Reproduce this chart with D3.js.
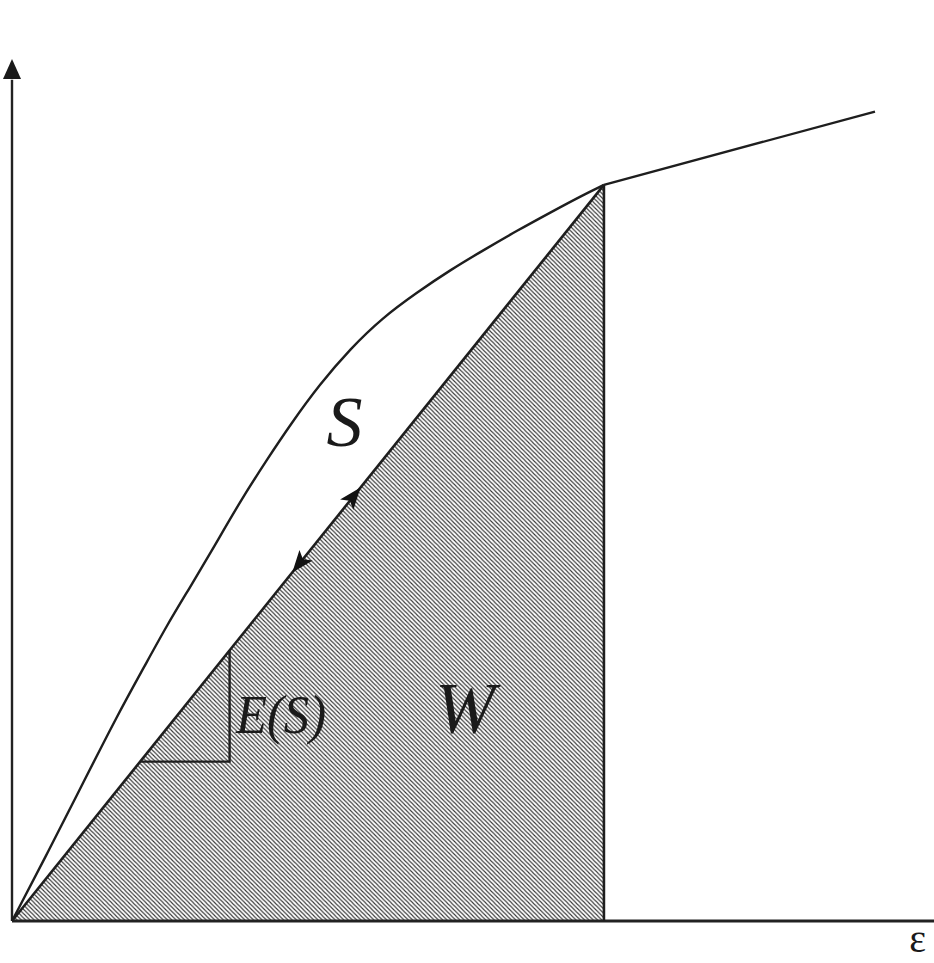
<!DOCTYPE html>
<html lang="en">
<head>
<meta charset="utf-8">
<title>Stress-strain energy diagram</title>
<script src="https://cdn.jsdelivr.net/npm/d3@7"></script>
<style>
  body { margin: 0; background: #fff; }
  svg { display: block; }
  .lbl { font-family: "Liberation Serif", "Times New Roman", Times, "DejaVu Serif", serif; font-style: italic; fill: #1a1a1a; }
  .eps { font-family: "Liberation Serif", "Times New Roman", Times, "DejaVu Serif", serif; fill: #1a1a1a; }
</style>
</head>
<body>
<div id="chart"></div>
<script>
// loading curve (strain, stress), 0..100 units
var strain = [0, 4.1, 7.7, 11.4, 14.4, 16.8, 19.3, 21.8, 24.7, 27.7, 30.2, 33.4, 36.7, 40.2, 43.9, 47.5, 51.1, 54.8, 58.4, 61.9, 64.2];
var stress = [0, 8.4, 16.0, 23.8, 29.6, 34.3, 38.7, 43.2, 48.6, 53.6, 57.6, 62.3, 66.4, 70.0, 72.9, 75.5, 77.8, 80.1, 82.2, 84.2, 85.4];

// hardening branch after the peak
var hardStrain = [64.2, 93.6];
var hardStress = [85.4, 93.9];

// unloading/reloading chord and its arrows
var peak = [64.2, 85.4];
var arrowUpAt = 37.8;
var arrowDownAt = 30.4;

// small slope triangle E(S)
var triStrain = [13.9, 23.6];

var w = 934, h = 963;

var x = d3.scaleLinear().domain([0, 100]).range([12, 934]);
var y = d3.scaleLinear().domain([0, 100]).range([921, 59]);

var svg = d3.select("#chart").append("svg")
  .attr("width", w)
  .attr("height", h);

// hatching pattern, lines going down to the right
var hs = 4.3;
var defs = svg.append("defs");
defs.append("pattern")
  .attr("id", "hatch")
  .attr("patternUnits", "userSpaceOnUse")
  .attr("width", hs)
  .attr("height", hs)
  .append("path")
  .attr("d", "M-1,-1L" + (hs + 1) + "," + (hs + 1) + "M-1," + (hs - 1) + "L1," + (hs + 1) + "M" + (hs - 1) + ",-1L" + (hs + 1) + ",1")
  .attr("stroke", "#333")
  .attr("stroke-width", 1.1);

var slope = peak[1] / peak[0];
var line = d3.line().x(function(d) { return x(d[0]); }).y(function(d) { return y(d[1]); });

// hatched region W under the chord
svg.append("path")
  .attr("d", line([[0, 0], peak, [peak[0], 0]]) + "Z")
  .attr("fill", "url(#hatch)")
  .attr("stroke", "none");

// axes
svg.append("line")
  .attr("x1", x(0)).attr("y1", y(0))
  .attr("x2", x(0)).attr("y2", y(97.6))
  .attr("stroke", "#222").attr("stroke-width", 2.4);
svg.append("path")
  .attr("d", "M" + x(0) + "," + y(100) + "L" + (x(0) - 9) + "," + (y(100) + 20) + "L" + (x(0) + 9) + "," + (y(100) + 20) + "Z")
  .attr("fill", "#1a1a1a");
svg.append("line")
  .attr("x1", x(0)).attr("y1", y(0))
  .attr("x2", x(100)).attr("y2", y(0))
  .attr("stroke", "#222").attr("stroke-width", 2.8);

// vertical at peak strain
svg.append("line")
  .attr("x1", x(peak[0])).attr("y1", y(peak[1]))
  .attr("x2", x(peak[0])).attr("y2", y(0))
  .attr("stroke", "#1e1e1e").attr("stroke-width", 2.6);

// chord
svg.append("path")
  .attr("d", line([[0, 0], peak]))
  .attr("fill", "none")
  .attr("stroke", "#1e1e1e").attr("stroke-width", 2.6);

// loading curve
svg.append("path")
  .datum(d3.zip(strain, stress))
  .attr("d", d3.line()
    .x(function(d) { return x(d[0]); })
    .y(function(d) { return y(d[1]); })
    .curve(d3.curveBasis))
  .attr("fill", "none")
  .attr("stroke", "#1e1e1e").attr("stroke-width", 2.4);

// hardening branch
svg.append("path")
  .attr("d", line(d3.zip(hardStrain, hardStress)))
  .attr("fill", "none")
  .attr("stroke", "#1e1e1e").attr("stroke-width", 2.4);

// small triangle
svg.append("path")
  .attr("d", line([[triStrain[0], triStrain[0] * slope], [triStrain[1], triStrain[0] * slope], [triStrain[1], triStrain[1] * slope]]))
  .attr("fill", "none")
  .attr("stroke", "#1e1e1e").attr("stroke-width", 2.4);

// arrowheads on the chord
var ang = Math.atan2(y(peak[1]) - y(0), x(peak[0]) - x(0)) * 180 / Math.PI;
function arrow(at, dir) {
  svg.append("path")
    .attr("d", "M0,0L-22,-8.5L-17,0L-22,8.5Z")
    .attr("fill", "#111")
    .attr("transform", "translate(" + x(at) + "," + y(at * slope) + ") rotate(" + (dir > 0 ? ang : ang + 180) + ")");
}
arrow(arrowUpAt, 1);
arrow(arrowDownAt, -1);

// labels
svg.append("text").attr("class", "lbl")
  .attr("x", x(34.1)).attr("y", y(55.1))
  .attr("font-size", 72)
  .text("S");

svg.append("text").attr("class", "lbl")
  .attr("x", x(24.3)).attr("y", y(21.8))
  .attr("font-size", 55)
  .attr("textLength", 90)
  .attr("lengthAdjust", "spacingAndGlyphs")
  .text("E(S)");

svg.append("text").attr("class", "lbl")
  .attr("x", x(45.9)).attr("y", y(21.9))
  .attr("font-size", 72)
  .text("W");

svg.append("text").attr("class", "eps")
  .attr("x", 926).attr("y", 952)
  .attr("text-anchor", "end")
  .attr("font-size", 40)
  .text("ε");
</script>
</body>
</html>
